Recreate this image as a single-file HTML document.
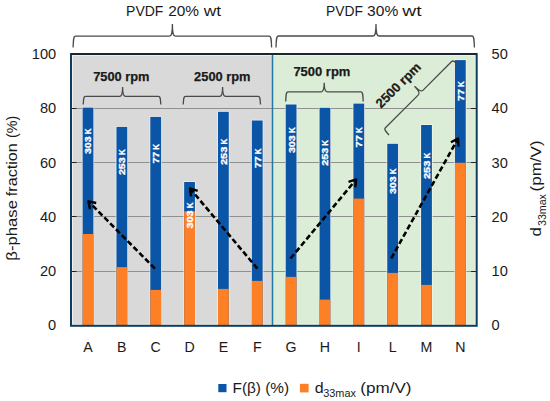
<!DOCTYPE html>
<html><head><meta charset="utf-8"><style>
html,body{margin:0;padding:0;background:#fff;width:550px;height:401px;overflow:hidden}
svg{display:block}
text{font-family:"Liberation Sans",sans-serif}
</style></head><body>
<svg width="550" height="401" viewBox="0 0 550 401"><rect x="0" y="0" width="550" height="401" fill="#fff"/>
<rect x="71" y="54" width="201.5" height="272" fill="#d9d9d9"/>
<rect x="272.5" y="54" width="204.5" height="272" fill="#dcedd7"/>
<rect x="72.5" y="55.5" width="402.7" height="268.8" fill="none" stroke="#f4f6f2" stroke-width="1" stroke-opacity="0.75"/>
<line x1="71" y1="271.50" x2="477" y2="271.50" stroke="#909090" stroke-width="1"/>
<line x1="71" y1="271.50" x2="76.5" y2="271.50" stroke="#222" stroke-width="1"/>
<line x1="471" y1="271.50" x2="477" y2="271.50" stroke="#222" stroke-width="1"/>
<line x1="71" y1="216.50" x2="477" y2="216.50" stroke="#909090" stroke-width="1"/>
<line x1="71" y1="216.50" x2="76.5" y2="216.50" stroke="#222" stroke-width="1"/>
<line x1="471" y1="216.50" x2="477" y2="216.50" stroke="#222" stroke-width="1"/>
<line x1="71" y1="162.50" x2="477" y2="162.50" stroke="#909090" stroke-width="1"/>
<line x1="71" y1="162.50" x2="76.5" y2="162.50" stroke="#222" stroke-width="1"/>
<line x1="471" y1="162.50" x2="477" y2="162.50" stroke="#222" stroke-width="1"/>
<line x1="71" y1="108.50" x2="477" y2="108.50" stroke="#909090" stroke-width="1"/>
<line x1="71" y1="108.50" x2="76.5" y2="108.50" stroke="#222" stroke-width="1"/>
<line x1="471" y1="108.50" x2="477" y2="108.50" stroke="#222" stroke-width="1"/>
<rect x="81.90" y="106.90" width="12.20" height="218.10" fill="#f6f6f0" fill-opacity="0.8"/>
<rect x="82.60" y="107.60" width="10.8" height="217.40" fill="#0b55a6"/>
<rect x="82.60" y="234.00" width="10.8" height="91.00" fill="#fd7f26"/>
<rect x="115.75" y="126.20" width="12.20" height="198.80" fill="#f6f6f0" fill-opacity="0.8"/>
<rect x="116.45" y="126.90" width="10.8" height="198.10" fill="#0b55a6"/>
<rect x="116.45" y="267.10" width="10.8" height="57.90" fill="#fd7f26"/>
<rect x="149.60" y="116.20" width="12.20" height="208.80" fill="#f6f6f0" fill-opacity="0.8"/>
<rect x="150.30" y="116.90" width="10.8" height="208.10" fill="#0b55a6"/>
<rect x="150.30" y="289.90" width="10.8" height="35.10" fill="#fd7f26"/>
<rect x="183.45" y="181.30" width="12.20" height="143.70" fill="#f6f6f0" fill-opacity="0.8"/>
<rect x="184.15" y="182.00" width="10.8" height="143.00" fill="#0b55a6"/>
<rect x="184.15" y="211.30" width="10.8" height="113.70" fill="#fd7f26"/>
<rect x="217.30" y="111.10" width="12.20" height="213.90" fill="#f6f6f0" fill-opacity="0.8"/>
<rect x="218.00" y="111.80" width="10.8" height="213.20" fill="#0b55a6"/>
<rect x="218.00" y="288.90" width="10.8" height="36.10" fill="#fd7f26"/>
<rect x="251.15" y="119.80" width="12.20" height="205.20" fill="#f6f6f0" fill-opacity="0.8"/>
<rect x="251.85" y="120.50" width="10.8" height="204.50" fill="#0b55a6"/>
<rect x="251.85" y="280.90" width="10.8" height="44.10" fill="#fd7f26"/>
<rect x="285.00" y="103.80" width="12.20" height="221.20" fill="#f6f6f0" fill-opacity="0.8"/>
<rect x="285.70" y="104.50" width="10.8" height="220.50" fill="#0b55a6"/>
<rect x="285.70" y="276.90" width="10.8" height="48.10" fill="#fd7f26"/>
<rect x="318.85" y="107.10" width="12.20" height="217.90" fill="#f6f6f0" fill-opacity="0.8"/>
<rect x="319.55" y="107.80" width="10.8" height="217.20" fill="#0b55a6"/>
<rect x="319.55" y="299.60" width="10.8" height="25.40" fill="#fd7f26"/>
<rect x="352.70" y="102.90" width="12.20" height="222.10" fill="#f6f6f0" fill-opacity="0.8"/>
<rect x="353.40" y="103.60" width="10.8" height="221.40" fill="#0b55a6"/>
<rect x="353.40" y="198.60" width="10.8" height="126.40" fill="#fd7f26"/>
<rect x="386.55" y="143.10" width="12.20" height="181.90" fill="#f6f6f0" fill-opacity="0.8"/>
<rect x="387.25" y="143.80" width="10.8" height="181.20" fill="#0b55a6"/>
<rect x="387.25" y="272.90" width="10.8" height="52.10" fill="#fd7f26"/>
<rect x="420.40" y="124.30" width="12.20" height="200.70" fill="#f6f6f0" fill-opacity="0.8"/>
<rect x="421.10" y="125.00" width="10.8" height="200.00" fill="#0b55a6"/>
<rect x="421.10" y="284.90" width="10.8" height="40.10" fill="#fd7f26"/>
<rect x="454.25" y="59.40" width="12.20" height="265.60" fill="#f6f6f0" fill-opacity="0.8"/>
<rect x="454.95" y="60.10" width="10.8" height="264.90" fill="#0b55a6"/>
<rect x="454.95" y="162.80" width="10.8" height="162.20" fill="#fd7f26"/>
<text x="0" y="0" transform="translate(91.40,154.10) rotate(-90)" font-family="Liberation Sans" font-weight="bold" font-size="9.7" fill="#fff" textLength="17.70" stroke="#fff" stroke-width="0.3" lengthAdjust="spacingAndGlyphs">303</text>
<text x="0" y="0" transform="translate(91.40,134.30) rotate(-90)" font-family="Liberation Sans" font-weight="bold" font-size="9.7" fill="#fff" textLength="5.80" stroke="#fff" stroke-width="0.3" lengthAdjust="spacingAndGlyphs">K</text>
<text x="0" y="0" transform="translate(125.25,175.10) rotate(-90)" font-family="Liberation Sans" font-weight="bold" font-size="9.7" fill="#fff" textLength="17.90" stroke="#fff" stroke-width="0.3" lengthAdjust="spacingAndGlyphs">253</text>
<text x="0" y="0" transform="translate(125.25,155.10) rotate(-90)" font-family="Liberation Sans" font-weight="bold" font-size="9.7" fill="#fff" textLength="5.80" stroke="#fff" stroke-width="0.3" lengthAdjust="spacingAndGlyphs">K</text>
<text x="0" y="0" transform="translate(159.10,163.50) rotate(-90)" font-family="Liberation Sans" font-weight="bold" font-size="9.7" fill="#fff" textLength="11.70" stroke="#fff" stroke-width="0.3" lengthAdjust="spacingAndGlyphs">77</text>
<text x="0" y="0" transform="translate(159.10,149.70) rotate(-90)" font-family="Liberation Sans" font-weight="bold" font-size="9.7" fill="#fff" textLength="5.80" stroke="#fff" stroke-width="0.3" lengthAdjust="spacingAndGlyphs">K</text>
<text x="0" y="0" transform="translate(192.95,228.60) rotate(-90)" font-family="Liberation Sans" font-weight="bold" font-size="9.7" fill="#fff" textLength="18.30" stroke="#fff" stroke-width="0.3" lengthAdjust="spacingAndGlyphs">303</text>
<text x="0" y="0" transform="translate(192.95,208.20) rotate(-90)" font-family="Liberation Sans" font-weight="bold" font-size="9.7" fill="#fff" textLength="5.80" stroke="#fff" stroke-width="0.3" lengthAdjust="spacingAndGlyphs">K</text>
<text x="0" y="0" transform="translate(226.80,165.10) rotate(-90)" font-family="Liberation Sans" font-weight="bold" font-size="9.7" fill="#fff" textLength="18.50" stroke="#fff" stroke-width="0.3" lengthAdjust="spacingAndGlyphs">253</text>
<text x="0" y="0" transform="translate(226.80,144.50) rotate(-90)" font-family="Liberation Sans" font-weight="bold" font-size="9.7" fill="#fff" textLength="5.80" stroke="#fff" stroke-width="0.3" lengthAdjust="spacingAndGlyphs">K</text>
<text x="0" y="0" transform="translate(260.65,168.10) rotate(-90)" font-family="Liberation Sans" font-weight="bold" font-size="9.7" fill="#fff" textLength="11.80" stroke="#fff" stroke-width="0.3" lengthAdjust="spacingAndGlyphs">77</text>
<text x="0" y="0" transform="translate(260.65,154.20) rotate(-90)" font-family="Liberation Sans" font-weight="bold" font-size="9.7" fill="#fff" textLength="5.80" stroke="#fff" stroke-width="0.3" lengthAdjust="spacingAndGlyphs">K</text>
<text x="0" y="0" transform="translate(294.50,153.10) rotate(-90)" font-family="Liberation Sans" font-weight="bold" font-size="9.7" fill="#fff" textLength="17.90" stroke="#fff" stroke-width="0.3" lengthAdjust="spacingAndGlyphs">303</text>
<text x="0" y="0" transform="translate(294.50,133.10) rotate(-90)" font-family="Liberation Sans" font-weight="bold" font-size="9.7" fill="#fff" textLength="5.80" stroke="#fff" stroke-width="0.3" lengthAdjust="spacingAndGlyphs">K</text>
<text x="0" y="0" transform="translate(328.35,165.70) rotate(-90)" font-family="Liberation Sans" font-weight="bold" font-size="9.7" fill="#fff" textLength="17.90" stroke="#fff" stroke-width="0.3" lengthAdjust="spacingAndGlyphs">253</text>
<text x="0" y="0" transform="translate(328.35,145.70) rotate(-90)" font-family="Liberation Sans" font-weight="bold" font-size="9.7" fill="#fff" textLength="5.80" stroke="#fff" stroke-width="0.3" lengthAdjust="spacingAndGlyphs">K</text>
<text x="0" y="0" transform="translate(362.20,147.50) rotate(-90)" font-family="Liberation Sans" font-weight="bold" font-size="9.7" fill="#fff" textLength="12.30" stroke="#fff" stroke-width="0.3" lengthAdjust="spacingAndGlyphs">77</text>
<text x="0" y="0" transform="translate(362.20,133.10) rotate(-90)" font-family="Liberation Sans" font-weight="bold" font-size="9.7" fill="#fff" textLength="5.80" stroke="#fff" stroke-width="0.3" lengthAdjust="spacingAndGlyphs">K</text>
<text x="0" y="0" transform="translate(396.05,194.10) rotate(-90)" font-family="Liberation Sans" font-weight="bold" font-size="9.7" fill="#fff" textLength="17.80" stroke="#fff" stroke-width="0.3" lengthAdjust="spacingAndGlyphs">303</text>
<text x="0" y="0" transform="translate(396.05,174.20) rotate(-90)" font-family="Liberation Sans" font-weight="bold" font-size="9.7" fill="#fff" textLength="5.80" stroke="#fff" stroke-width="0.3" lengthAdjust="spacingAndGlyphs">K</text>
<text x="0" y="0" transform="translate(429.90,179.10) rotate(-90)" font-family="Liberation Sans" font-weight="bold" font-size="9.7" fill="#fff" textLength="18.50" stroke="#fff" stroke-width="0.3" lengthAdjust="spacingAndGlyphs">253</text>
<text x="0" y="0" transform="translate(429.90,158.50) rotate(-90)" font-family="Liberation Sans" font-weight="bold" font-size="9.7" fill="#fff" textLength="5.80" stroke="#fff" stroke-width="0.3" lengthAdjust="spacingAndGlyphs">K</text>
<text x="0" y="0" transform="translate(463.75,100.90) rotate(-90)" font-family="Liberation Sans" font-weight="bold" font-size="9.7" fill="#fff" textLength="11.70" stroke="#fff" stroke-width="0.3" lengthAdjust="spacingAndGlyphs">77</text>
<text x="0" y="0" transform="translate(463.75,87.10) rotate(-90)" font-family="Liberation Sans" font-weight="bold" font-size="9.7" fill="#fff" textLength="5.80" stroke="#fff" stroke-width="0.3" lengthAdjust="spacingAndGlyphs">K</text>
<line x1="272.5" y1="54" x2="272.5" y2="326" stroke="#2279a6" stroke-width="1.5"/>
<rect x="71" y="54" width="405.7" height="271.8" fill="none" stroke="#0d3e60" stroke-width="2"/>
<line x1="71" y1="54" x2="476.7" y2="54" stroke="#1b262d" stroke-width="2"/>
<text x="56.2" y="330.30" text-anchor="end" font-family="Liberation Sans" font-size="14.6" fill="#1a1a1a">0</text>
<text x="56.2" y="276.05" text-anchor="end" font-family="Liberation Sans" font-size="14.6" fill="#1a1a1a">20</text>
<text x="56.2" y="221.80" text-anchor="end" font-family="Liberation Sans" font-size="14.6" fill="#1a1a1a">40</text>
<text x="56.2" y="167.55" text-anchor="end" font-family="Liberation Sans" font-size="14.6" fill="#1a1a1a">60</text>
<text x="56.2" y="113.30" text-anchor="end" font-family="Liberation Sans" font-size="14.6" fill="#1a1a1a">80</text>
<text x="56.2" y="59.05" text-anchor="end" font-family="Liberation Sans" font-size="14.6" fill="#1a1a1a">100</text>
<text x="491.6" y="330.30" font-family="Liberation Sans" font-size="14.6" fill="#1a1a1a">0</text>
<text x="491.6" y="276.05" font-family="Liberation Sans" font-size="14.6" fill="#1a1a1a">10</text>
<text x="491.6" y="221.80" font-family="Liberation Sans" font-size="14.6" fill="#1a1a1a">20</text>
<text x="491.6" y="167.55" font-family="Liberation Sans" font-size="14.6" fill="#1a1a1a">30</text>
<text x="491.6" y="113.30" font-family="Liberation Sans" font-size="14.6" fill="#1a1a1a">40</text>
<text x="491.6" y="59.05" font-family="Liberation Sans" font-size="14.6" fill="#1a1a1a">50</text>
<text x="88.00" y="352.2" text-anchor="middle" font-family="Liberation Sans" font-size="14.2" fill="#1a1a1a">A</text>
<text x="121.85" y="352.2" text-anchor="middle" font-family="Liberation Sans" font-size="14.2" fill="#1a1a1a">B</text>
<text x="155.70" y="352.2" text-anchor="middle" font-family="Liberation Sans" font-size="14.2" fill="#1a1a1a">C</text>
<text x="189.55" y="352.2" text-anchor="middle" font-family="Liberation Sans" font-size="14.2" fill="#1a1a1a">D</text>
<text x="223.40" y="352.2" text-anchor="middle" font-family="Liberation Sans" font-size="14.2" fill="#1a1a1a">E</text>
<text x="257.25" y="352.2" text-anchor="middle" font-family="Liberation Sans" font-size="14.2" fill="#1a1a1a">F</text>
<text x="291.10" y="352.2" text-anchor="middle" font-family="Liberation Sans" font-size="14.2" fill="#1a1a1a">G</text>
<text x="324.95" y="352.2" text-anchor="middle" font-family="Liberation Sans" font-size="14.2" fill="#1a1a1a">H</text>
<text x="358.80" y="352.2" text-anchor="middle" font-family="Liberation Sans" font-size="14.2" fill="#1a1a1a">I</text>
<text x="392.65" y="352.2" text-anchor="middle" font-family="Liberation Sans" font-size="14.2" fill="#1a1a1a">L</text>
<text x="426.50" y="352.2" text-anchor="middle" font-family="Liberation Sans" font-size="14.2" fill="#1a1a1a">M</text>
<text x="460.35" y="352.2" text-anchor="middle" font-family="Liberation Sans" font-size="14.2" fill="#1a1a1a">N</text>
<text x="126.05" y="15.80" font-family="Liberation Sans" font-size="15.5" fill="#1a1a1a" textLength="37.31" lengthAdjust="spacingAndGlyphs">PVDF</text>
<text x="168.13" y="15.80" font-family="Liberation Sans" font-size="15.5" fill="#1a1a1a" textLength="30.82" lengthAdjust="spacingAndGlyphs">20%</text>
<text x="203.73" y="15.80" font-family="Liberation Sans" font-size="15.5" fill="#1a1a1a" textLength="17.30" lengthAdjust="spacingAndGlyphs">wt</text>
<text x="326.07" y="15.80" font-family="Liberation Sans" font-size="15.5" fill="#1a1a1a" textLength="36.78" lengthAdjust="spacingAndGlyphs">PVDF</text>
<text x="367.11" y="15.80" font-family="Liberation Sans" font-size="15.5" fill="#1a1a1a" textLength="31.15" lengthAdjust="spacingAndGlyphs">30%</text>
<text x="402.33" y="15.80" font-family="Liberation Sans" font-size="15.5" fill="#1a1a1a" textLength="19.21" lengthAdjust="spacingAndGlyphs">wt</text>
<text x="93.2" y="81.3" font-family="Liberation Sans" font-weight="bold" font-size="13" fill="#1a1a1a" stroke="#1a1a1a" stroke-width="0.25" textLength="56.3" lengthAdjust="spacingAndGlyphs">7500 rpm</text>
<text x="194.1" y="81.3" font-family="Liberation Sans" font-weight="bold" font-size="13" fill="#1a1a1a" stroke="#1a1a1a" stroke-width="0.25" textLength="56.4" lengthAdjust="spacingAndGlyphs">2500 rpm</text>
<text x="293.4" y="76.3" font-family="Liberation Sans" font-weight="bold" font-size="13" fill="#1a1a1a" stroke="#1a1a1a" stroke-width="0.25" textLength="57" lengthAdjust="spacingAndGlyphs">7500 rpm</text>
<text x="0" y="0" transform="translate(381,108.8) rotate(-45)" font-family="Liberation Sans" font-weight="bold" font-size="13" fill="#1a1a1a" stroke="#1a1a1a" stroke-width="0.25" textLength="57.8" lengthAdjust="spacingAndGlyphs">2500 rpm</text>
<text x="-1.16" y="0" transform="translate(16.80,259.50) rotate(-90)" font-family="Liberation Sans" font-size="15.5" fill="#1a1a1a" textLength="60.60" lengthAdjust="spacingAndGlyphs">β-phase</text>
<text x="-0.23" y="0" transform="translate(16.80,196.00) rotate(-90)" font-family="Liberation Sans" font-size="15.5" fill="#1a1a1a" textLength="52.98" lengthAdjust="spacingAndGlyphs">fraction</text>
<text x="-0.88" y="0" transform="translate(16.80,137.00) rotate(-90)" font-family="Liberation Sans" font-size="15.5" fill="#1a1a1a" textLength="22.17" lengthAdjust="spacingAndGlyphs">(%)</text>
<text x="-0.70" y="0" transform="translate(540.80,235.70) rotate(-90)" font-family="Liberation Sans" font-size="15.5" fill="#1a1a1a" textLength="9.28" lengthAdjust="spacingAndGlyphs">d</text>
<text x="-0.40" y="0" transform="translate(546.00,225.60) rotate(-90)" font-family="Liberation Sans" font-size="10.5" fill="#1a1a1a" textLength="31.82" lengthAdjust="spacingAndGlyphs">33max</text>
<text x="-1.05" y="0" transform="translate(540.80,190.40) rotate(-90)" font-family="Liberation Sans" font-size="15.5" fill="#1a1a1a" textLength="51.01" lengthAdjust="spacingAndGlyphs">(pm/V)</text>
<rect x="218.3" y="384" width="8.2" height="8.2" fill="#0b55a6"/>
<rect x="299.9" y="383.8" width="8.7" height="8.6" fill="#fd7f26"/>
<text x="232.54" y="392.80" font-family="Liberation Sans" font-size="14.5" fill="#1a1a1a" textLength="56.61" lengthAdjust="spacingAndGlyphs">F(β) (%)</text>
<text x="314.83" y="392.80" font-family="Liberation Sans" font-size="14.5" fill="#1a1a1a" textLength="8.90" lengthAdjust="spacingAndGlyphs">d</text>
<text x="323.18" y="397.00" font-family="Liberation Sans" font-size="10.5" fill="#1a1a1a" textLength="32.73" lengthAdjust="spacingAndGlyphs">33max</text>
<text x="360.24" y="392.80" font-family="Liberation Sans" font-size="14.5" fill="#1a1a1a" textLength="51.22" lengthAdjust="spacingAndGlyphs">(pm/V)</text>
<path d="M73.10,47.50 C73.40,38.00 73.70,36.20 75.30,36.20 L169.40,36.20 C171.40,36.20 172.40,34.20 172.40,24.00 C172.40,34.20 173.40,36.20 175.40,36.20 L269.40,36.20 C271.00,36.20 271.30,38.00 271.60,47.50" fill="none" stroke="#4a4a4a" stroke-width="1.3"/>
<path d="M276.00,47.40 C276.30,37.80 276.60,36.00 278.20,36.00 L373.00,36.00 C375.00,36.00 376.00,34.00 376.00,24.00 C376.00,34.00 377.00,36.00 379.00,36.00 L472.20,36.00 C473.80,36.00 474.10,37.80 474.40,47.40" fill="none" stroke="#4a4a4a" stroke-width="1.3"/>
<path d="M83.20,104.50 C83.50,98.20 83.80,96.40 85.40,96.40 L119.60,96.40 C121.60,96.40 122.60,94.40 122.60,87.00 C122.60,94.40 123.60,96.40 125.60,96.40 L158.60,96.40 C160.20,96.40 160.50,98.20 160.80,104.50" fill="none" stroke="#4a4a4a" stroke-width="1.3"/>
<path d="M183.20,104.50 C183.50,98.20 183.80,96.40 185.40,96.40 L219.60,96.40 C221.60,96.40 222.60,94.40 222.60,87.00 C222.60,94.40 223.60,96.40 225.60,96.40 L258.30,96.40 C259.90,96.40 260.20,98.20 260.50,104.50" fill="none" stroke="#4a4a4a" stroke-width="1.3"/>
<path d="M285.70,101.60 C286.00,93.60 286.30,91.80 287.90,91.80 L321.20,91.80 C323.20,91.80 324.20,89.80 324.20,82.80 C324.20,89.80 325.20,91.80 327.20,91.80 L361.00,91.80 C362.60,91.80 362.90,93.60 363.20,101.60" fill="none" stroke="#4a4a4a" stroke-width="1.3"/>
<g transform="translate(383.6,129.6) rotate(-45)"><path d="M0.00,7.80 C0.30,1.80 0.60,0.00 2.20,0.00 L49.50,0.00 C51.50,0.00 52.50,-2.00 52.50,-8.80 C52.50,-2.00 53.50,0.00 55.50,0.00 L96.60,0.00 C98.20,0.00 98.50,1.80 98.80,7.80" fill="none" stroke="#4a4a4a" stroke-width="1.3"/></g>
<line x1="154.90" y1="268.60" x2="89.81" y2="202.73" stroke="#000" stroke-width="2.6" stroke-dasharray="5.5 2.8"/>
<path d="M96.22,203.02 L88.40,201.31 L90.02,209.15" fill="none" stroke="#000" stroke-width="2.4" stroke-linejoin="round" stroke-linecap="butt"/>
<line x1="257.40" y1="268.60" x2="191.33" y2="190.00" stroke="#000" stroke-width="2.6" stroke-dasharray="5.5 2.8"/>
<path d="M197.70,190.80 L190.04,188.47 L191.03,196.41" fill="none" stroke="#000" stroke-width="2.4" stroke-linejoin="round" stroke-linecap="butt"/>
<line x1="290.50" y1="258.50" x2="354.88" y2="181.01" stroke="#000" stroke-width="2.6" stroke-dasharray="5.5 2.8"/>
<path d="M355.22,187.41 L356.16,179.47 L348.52,181.85" fill="none" stroke="#000" stroke-width="2.4" stroke-linejoin="round" stroke-linecap="butt"/>
<line x1="391.20" y1="258.40" x2="457.04" y2="140.32" stroke="#000" stroke-width="2.6" stroke-dasharray="5.5 2.8"/>
<path d="M458.55,146.56 L458.01,138.57 L450.94,142.31" fill="none" stroke="#000" stroke-width="2.4" stroke-linejoin="round" stroke-linecap="butt"/></svg>
</body></html>
